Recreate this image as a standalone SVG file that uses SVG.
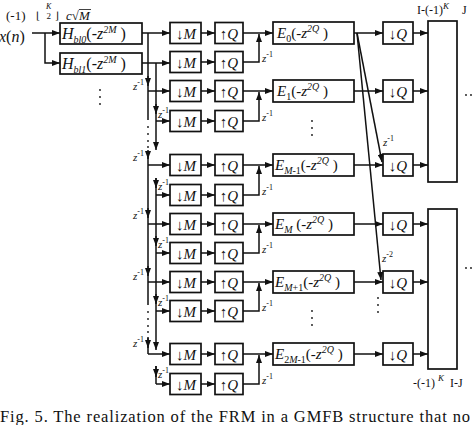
<svg xmlns="http://www.w3.org/2000/svg" width="474" height="425" viewBox="0 0 474 425" font-size="15">
<defs>
<marker id="ah" markerUnits="userSpaceOnUse" markerWidth="8" markerHeight="6" refX="8" refY="3" orient="auto"><path d="M0,0 L8,3 L0,6 z" fill="#111"/></marker>
<style>
.bx{fill:#fff;stroke:#111;stroke-width:1.7}
.ln{fill:none;stroke:#111;stroke-width:1.5}
.a{marker-end:url(#ah)}
text{font-family:"Liberation Serif","DejaVu Serif",serif;fill:#111}
.i{font-style:italic}
.s{font-size:10px}
.z{font-size:11px;font-style:italic}
.zs{font-size:8px;font-style:normal}
.c{text-anchor:middle}
.d{fill:#111}
</style>
</defs>
<rect width="474" height="425" fill="#fff"/>

<!-- labels outside nodes -->
<g id="top-left-label">
<text x="6" y="20" font-size="13">(-1)<tspan x="36" y="19" font-size="10">⌊</tspan><tspan x="46" y="9" font-size="8" class="i">K</tspan><tspan x="46.5" y="19" font-size="9">2</tspan><tspan x="55" y="19" font-size="10">⌋</tspan><tspan x="66" y="20" class="i">c</tspan><tspan>√</tspan><tspan class="i">M</tspan></text>
<line x1="79" y1="9.5" x2="91" y2="9.5" stroke="#111" stroke-width="0.8"/>
</g>
<text x="-1" y="42" font-size="16"><tspan class="i">x</tspan>(<tspan class="i">n</tspan>)</text>

<g id="H10"><rect class="bx" x="60" y="23" width="82" height="21"/>
<text x="62" y="39" font-size="16"><tspan class="i">H</tspan><tspan class="s i" dy="4">bl0</tspan><tspan dy="-4">(-</tspan><tspan class="i">z</tspan><tspan class="s i" dy="-6">2M</tspan><tspan dy="6"> )</tspan></text></g>
<g id="H11"><rect class="bx" x="60" y="53" width="82" height="21"/>
<text x="62" y="69" font-size="16"><tspan class="i">H</tspan><tspan class="s i" dy="4">bl1</tspan><tspan dy="-4">(-</tspan><tspan class="i">z</tspan><tspan class="s i" dy="-6">2M</tspan><tspan dy="6"> )</tspan></text></g>

<!-- connectors -->
<g id="connectors" class="ln">
<path class="ln a" d="M32 33 H60"/>
<path class="ln a" d="M45 33 V63 H60"/>
<path class="ln a" d="M142 33 H170"/>
<path class="ln a" d="M142 63 H170"/>
<!-- chain A -->
<path class="ln" d="M148 33 V120 M148 152 V305 M148 337 V354"/>
<path class="ln a" d="M148 91 H170"/>
<path class="ln a" d="M148 165 H170"/>
<path class="ln a" d="M148 224 H170"/>
<path class="ln a" d="M148 282 H170"/>
<path class="ln a" d="M148 354 H170"/>
<path class="ln a" d="M148 76 V86"/>
<path class="ln a" d="M148 150 V159"/>
<path class="ln a" d="M148 208 V218"/>
<path class="ln a" d="M148 266 V276"/>
<path class="ln a" d="M148 338 V348"/>
<!-- chain B -->
<path class="ln a" d="M156 63 V150"/>
<path class="ln a" d="M156 178 V350"/>
<path class="ln" d="M156 366 V384"/>
<path class="ln a" d="M156 121 H170"/>
<path class="ln a" d="M156 195 H170"/>
<path class="ln a" d="M156 253 H170"/>
<path class="ln a" d="M156 311 H170"/>
<path class="ln a" d="M156 384 H170"/>
<path class="ln a" d="M156 104 V114"/>
<path class="ln a" d="M156 178 V188"/>
<path class="ln a" d="M156 236 V246"/>
<path class="ln a" d="M156 294 V304"/>
<path class="ln a" d="M156 366 V377"/>
<!-- downsample to upsample -->
<path class="ln a" d="M201 33 H215"/><path class="ln a" d="M201 62 H215"/>
<path class="ln a" d="M201 91 H215"/><path class="ln a" d="M201 121 H215"/>
<path class="ln a" d="M201 165 H215"/><path class="ln a" d="M201 195 H215"/>
<path class="ln a" d="M201 224 H215"/><path class="ln a" d="M201 253 H215"/>
<path class="ln a" d="M201 282 H215"/><path class="ln a" d="M201 311 H215"/>
<path class="ln a" d="M201 354 H215"/><path class="ln a" d="M201 384 H215"/>
<!-- upsample to E -->
<path class="ln a" d="M243 33 H273"/><path class="ln a" d="M243 62 H259 V34"/>
<path class="ln a" d="M243 91 H273"/><path class="ln a" d="M243 121 H259 V92"/>
<path class="ln a" d="M243 165 H273"/><path class="ln a" d="M243 195 H259 V166"/>
<path class="ln a" d="M243 224 H273"/><path class="ln a" d="M243 253 H259 V225"/>
<path class="ln a" d="M243 282 H273"/><path class="ln a" d="M243 311 H259 V283"/>
<path class="ln a" d="M243 354 H273"/><path class="ln a" d="M243 384 H259 V355"/>
<!-- E to downsample Q -->
<path class="ln a" d="M354 33 H383"/>
<path class="ln a" d="M354 91 H383"/>
<path class="ln a" d="M354 165 H383"/>
<path class="ln a" d="M354 224 H383"/>
<path class="ln a" d="M354 282 H383"/>
<path class="ln a" d="M354 354 H383"/>
<path class="ln a" d="M357 33 L382 162"/>
<path class="ln a" d="M357 33 L381 280"/>
<!-- Q to output boxes -->
<path class="ln a" d="M413 33 H428"/>
<path class="ln a" d="M413 91 H428"/>
<path class="ln a" d="M413 165 H428"/>
<path class="ln a" d="M413 224 H428"/>
<path class="ln a" d="M413 282 H428"/>
<path class="ln a" d="M413 354 H428"/>
</g>

<!-- delay labels -->
<g id="delay-labels">
<text class="z" x="133" y="90">z<tspan class="zs" dy="-5">-1</tspan></text>
<text class="z" x="133" y="161">z<tspan class="zs" dy="-5">-1</tspan></text>
<text class="z" x="133" y="219">z<tspan class="zs" dy="-5">-1</tspan></text>
<text class="z" x="133" y="280">z<tspan class="zs" dy="-5">-1</tspan></text>
<text class="z" x="133" y="347">z<tspan class="zs" dy="-5">-1</tspan></text>
<text class="z" x="158" y="118">z<tspan class="zs" dy="-5">-1</tspan></text>
<text class="z" x="158" y="190">z<tspan class="zs" dy="-5">-1</tspan></text>
<text class="z" x="158" y="248">z<tspan class="zs" dy="-5">-1</tspan></text>
<text class="z" x="158" y="306">z<tspan class="zs" dy="-5">-1</tspan></text>
<text class="z" x="158" y="378">z<tspan class="zs" dy="-5">-1</tspan></text>
<text class="z" x="262" y="62">z<tspan class="zs" dy="-5">-1</tspan></text>
<text class="z" x="262" y="121">z<tspan class="zs" dy="-5">-1</tspan></text>
<text class="z" x="262" y="195">z<tspan class="zs" dy="-5">-1</tspan></text>
<text class="z" x="262" y="253">z<tspan class="zs" dy="-5">-1</tspan></text>
<text class="z" x="262" y="311">z<tspan class="zs" dy="-5">-1</tspan></text>
<text class="z" x="262" y="384">z<tspan class="zs" dy="-5">-1</tspan></text>
<text class="z" x="383" y="146">z<tspan class="zs" dy="-5">-1</tspan></text>
<text class="z" x="382" y="262">z<tspan class="zs" dy="-5">-2</tspan></text>
</g>

<!-- ellipsis dots -->
<g id="dots" class="d">
<circle cx="100" cy="90" r="0.9"/><circle cx="100" cy="97" r="0.9"/><circle cx="100" cy="104" r="0.9"/>
<circle cx="148" cy="127" r="0.9"/><circle cx="148" cy="134" r="0.9"/><circle cx="148" cy="141" r="0.9"/><circle cx="148" cy="147" r="0.9"/>
<circle cx="148" cy="312" r="0.9"/><circle cx="148" cy="319" r="0.9"/><circle cx="148" cy="326" r="0.9"/><circle cx="148" cy="332" r="0.9"/>
<circle cx="312" cy="121" r="0.9"/><circle cx="312" cy="128" r="0.9"/><circle cx="312" cy="135" r="0.9"/>
<circle cx="312" cy="311" r="0.9"/><circle cx="312" cy="318" r="0.9"/><circle cx="312" cy="325" r="0.9"/>
<circle cx="378" cy="298" r="0.9"/><circle cx="378" cy="305" r="0.9"/><circle cx="378" cy="312" r="0.9"/>
<circle cx="466" cy="95" r="0.9"/><circle cx="471" cy="95" r="0.9"/>
<circle cx="466" cy="268" r="0.9"/><circle cx="471" cy="268" r="0.9"/>
</g>

<!-- down M boxes -->
<g id="dM0"><rect class="bx" x="170" y="22.5" width="31" height="21"/><text class="c" x="186" y="38.5">↓<tspan class="i">M</tspan></text></g>
<g id="dM1"><rect class="bx" x="170" y="51.5" width="31" height="21"/><text class="c" x="186" y="67.5">↓<tspan class="i">M</tspan></text></g>
<g id="dM2"><rect class="bx" x="170" y="80.5" width="31" height="21"/><text class="c" x="186" y="96.5">↓<tspan class="i">M</tspan></text></g>
<g id="dM3"><rect class="bx" x="170" y="110.5" width="31" height="21"/><text class="c" x="186" y="126.5">↓<tspan class="i">M</tspan></text></g>
<g id="dM4"><rect class="bx" x="170" y="154.5" width="31" height="21"/><text class="c" x="186" y="170.5">↓<tspan class="i">M</tspan></text></g>
<g id="dM5"><rect class="bx" x="170" y="184.5" width="31" height="21"/><text class="c" x="186" y="200.5">↓<tspan class="i">M</tspan></text></g>
<g id="dM6"><rect class="bx" x="170" y="213.5" width="31" height="21"/><text class="c" x="186" y="229.5">↓<tspan class="i">M</tspan></text></g>
<g id="dM7"><rect class="bx" x="170" y="242.5" width="31" height="21"/><text class="c" x="186" y="258.5">↓<tspan class="i">M</tspan></text></g>
<g id="dM8"><rect class="bx" x="170" y="271.5" width="31" height="21"/><text class="c" x="186" y="287.5">↓<tspan class="i">M</tspan></text></g>
<g id="dM9"><rect class="bx" x="170" y="300.5" width="31" height="21"/><text class="c" x="186" y="316.5">↓<tspan class="i">M</tspan></text></g>
<g id="dM10"><rect class="bx" x="170" y="343.5" width="31" height="21"/><text class="c" x="186" y="359.5">↓<tspan class="i">M</tspan></text></g>
<g id="dM11"><rect class="bx" x="170" y="373.5" width="31" height="21"/><text class="c" x="186" y="389.5">↓<tspan class="i">M</tspan></text></g>

<!-- up Q boxes -->
<g id="uQ0"><rect class="bx" x="215" y="22.5" width="28" height="21"/><text class="c" x="229" y="38.5">↑<tspan class="i">Q</tspan></text></g>
<g id="uQ1"><rect class="bx" x="215" y="51.5" width="28" height="21"/><text class="c" x="229" y="67.5">↑<tspan class="i">Q</tspan></text></g>
<g id="uQ2"><rect class="bx" x="215" y="80.5" width="28" height="21"/><text class="c" x="229" y="96.5">↑<tspan class="i">Q</tspan></text></g>
<g id="uQ3"><rect class="bx" x="215" y="110.5" width="28" height="21"/><text class="c" x="229" y="126.5">↑<tspan class="i">Q</tspan></text></g>
<g id="uQ4"><rect class="bx" x="215" y="154.5" width="28" height="21"/><text class="c" x="229" y="170.5">↑<tspan class="i">Q</tspan></text></g>
<g id="uQ5"><rect class="bx" x="215" y="184.5" width="28" height="21"/><text class="c" x="229" y="200.5">↑<tspan class="i">Q</tspan></text></g>
<g id="uQ6"><rect class="bx" x="215" y="213.5" width="28" height="21"/><text class="c" x="229" y="229.5">↑<tspan class="i">Q</tspan></text></g>
<g id="uQ7"><rect class="bx" x="215" y="242.5" width="28" height="21"/><text class="c" x="229" y="258.5">↑<tspan class="i">Q</tspan></text></g>
<g id="uQ8"><rect class="bx" x="215" y="271.5" width="28" height="21"/><text class="c" x="229" y="287.5">↑<tspan class="i">Q</tspan></text></g>
<g id="uQ9"><rect class="bx" x="215" y="300.5" width="28" height="21"/><text class="c" x="229" y="316.5">↑<tspan class="i">Q</tspan></text></g>
<g id="uQ10"><rect class="bx" x="215" y="343.5" width="28" height="21"/><text class="c" x="229" y="359.5">↑<tspan class="i">Q</tspan></text></g>
<g id="uQ11"><rect class="bx" x="215" y="373.5" width="28" height="21"/><text class="c" x="229" y="389.5">↑<tspan class="i">Q</tspan></text></g>

<!-- E boxes -->
<g id="E0"><rect class="bx" x="273" y="22" width="81" height="22"/>
<text x="277" y="38"><tspan class="i">E</tspan><tspan class="s" dy="4">0</tspan><tspan dy="-4">(-</tspan><tspan class="i">z</tspan><tspan class="s i" dy="-6">2Q</tspan><tspan dy="6"> )</tspan></text></g>
<g id="E1"><rect class="bx" x="273" y="80" width="81" height="22"/>
<text x="277" y="96"><tspan class="i">E</tspan><tspan class="s" dy="4">1</tspan><tspan dy="-4">(-</tspan><tspan class="i">z</tspan><tspan class="s i" dy="-6">2Q</tspan><tspan dy="6"> )</tspan></text></g>
<g id="EM-1"><rect class="bx" x="273" y="154" width="81" height="22"/>
<text x="275" y="170"><tspan class="i">E</tspan><tspan class="s i" dy="4">M</tspan><tspan class="s">-1</tspan><tspan dy="-4">(-</tspan><tspan class="i">z</tspan><tspan class="s i" dy="-6">2Q</tspan><tspan dy="6"> )</tspan></text></g>
<g id="EM"><rect class="bx" x="273" y="213" width="81" height="22"/>
<text x="275" y="229"><tspan class="i">E</tspan><tspan class="s i" dy="4">M</tspan><tspan dy="-4"> (-</tspan><tspan class="i">z</tspan><tspan class="s i" dy="-6">2Q</tspan><tspan dy="6"> )</tspan></text></g>
<g id="EM+1"><rect class="bx" x="273" y="271" width="81" height="22"/>
<text x="275" y="287"><tspan class="i">E</tspan><tspan class="s i" dy="4">M</tspan><tspan class="s">+1</tspan><tspan dy="-4">(-</tspan><tspan class="i">z</tspan><tspan class="s i" dy="-6">2Q</tspan><tspan dy="6"> )</tspan></text></g>
<g id="E2M-1"><rect class="bx" x="273" y="343" width="81" height="22"/>
<text x="275" y="359"><tspan class="i">E</tspan><tspan class="s" dy="4">2</tspan><tspan class="s i">M</tspan><tspan class="s">-1</tspan><tspan dy="-4">(-</tspan><tspan class="i">z</tspan><tspan class="s i" dy="-6">2Q</tspan><tspan dy="6"> )</tspan></text></g>

<!-- down Q boxes -->
<g id="dQ0"><rect class="bx" x="383" y="22" width="30" height="22"/><text class="c" x="398" y="38.5">↓<tspan class="i">Q</tspan></text></g>
<g id="dQ1"><rect class="bx" x="383" y="80" width="30" height="22"/><text class="c" x="398" y="96.5">↓<tspan class="i">Q</tspan></text></g>
<g id="dQ2"><rect class="bx" x="383" y="154" width="30" height="22"/><text class="c" x="398" y="170.5">↓<tspan class="i">Q</tspan></text></g>
<g id="dQ3"><rect class="bx" x="383" y="213" width="30" height="22"/><text class="c" x="398" y="229.5">↓<tspan class="i">Q</tspan></text></g>
<g id="dQ4"><rect class="bx" x="383" y="271" width="30" height="22"/><text class="c" x="398" y="287.5">↓<tspan class="i">Q</tspan></text></g>
<g id="dQ5"><rect class="bx" x="383" y="343" width="30" height="22"/><text class="c" x="398" y="359.5">↓<tspan class="i">Q</tspan></text></g>

<!-- output matrices -->
<g id="out-top"><rect class="bx" x="428" y="21" width="29" height="161"/>
<text x="417" y="14" font-size="12">I-(-1)<tspan dy="-5" font-size="9" class="i">K</tspan><tspan x="462" dy="5">J</tspan></text></g>
<g id="out-bottom"><rect class="bx" x="428" y="209" width="29" height="160"/>
<text x="413" y="387" font-size="12">-(-1)<tspan x="438" dy="-6" font-size="9" class="i">K</tspan><tspan x="450" dy="6">I-J</tspan></text></g>

<text x="0" y="422" font-size="16.5" textLength="470" lengthAdjust="spacing">Fig. 5. The realization of the FRM in a GMFB structure that no</text>
</svg>
